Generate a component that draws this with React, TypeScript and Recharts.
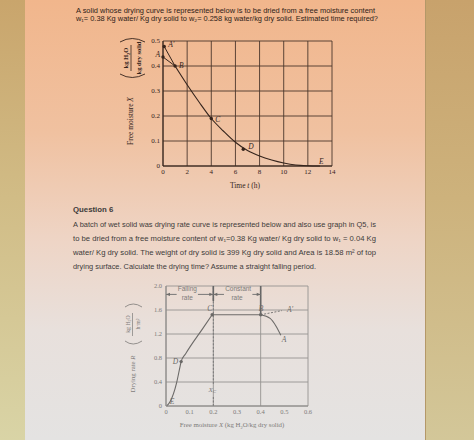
import React from "react";
import { ComposedChart, Line, XAxis, YAxis, CartesianGrid, ReferenceLine, ReferenceDot } from "recharts";

// Q5: free moisture X (kg H2O / kg dry solid) vs time t (h)
const q5Time = [1, 2, 3, 4, 5, 6, 7, 8, 9, 10, 11, 12, 13];
const q5Moisture = [0.4, 0.325, 0.255, 0.19, 0.14, 0.095, 0.062, 0.04, 0.024, 0.012, 0.004, 0.001, 0];
const q5StartATime = [0, 1];
const q5StartAMoisture = [0.436, 0.4];
const q5StartA2Time = [0.1, 1];
const q5StartA2Moisture = [0.478, 0.4];
const q5PointNames = ["A'", "A", "B", "C", "D", "E"];
const q5PointTime = [0.1, 0, 1, 4, 6.65, 13];
const q5PointMoisture = [0.478, 0.436, 0.4, 0.19, 0.067, 0];
const timeTicks = [0, 2, 4, 6, 8, 10, 12, 14];
const moistureTicks = [0, 0.1, 0.2, 0.3, 0.4, 0.5];

// Q6: drying rate R (kg H2O / h m2) vs free moisture X
const q6FallX = [0.003, 0.017, 0.045, 0.06, 0.064, 0.083, 0.155, 0.195];
const q6FallRate = [0, 0.07, 0.39, 0.67, 0.74, 0.87, 1.29, 1.52];
const q6ConstX = [0.195, 0.4];
const q6ConstRate = [1.52, 1.52];
const q6WarmX = [0.4, 0.44, 0.465, 0.485];
const q6WarmRate = [1.52, 1.46, 1.33, 1.18];
const q6HotX = [0.4, 0.49];
const q6HotRate = [1.52, 1.59];
const q6PointNames = ["A'", "A", "B", "C", "D", "E"];
const q6PointX = [0.49, 0.485, 0.4, 0.195, 0.064, 0.003];
const q6PointRate = [1.59, 1.18, 1.52, 1.52, 0.74, 0];
const criticalX = 0.2;
const q6XTicks = [0, 0.1, 0.2, 0.3, 0.4, 0.5, 0.6];
const rateTicks = [0, 0.4, 0.8, 1.2, 1.6, 2.0];

const zip = (xs: number[], ys: number[]) => xs.map((x, i) => ({ x, y: ys[i] }));
const points = (names: string[], xs: number[], ys: number[]) =>
  names.map((name, i) => ({ name, x: xs[i], y: ys[i] }));

const SERIF = "'Liberation Serif', 'DejaVu Serif', serif";
const SANS = "'Liberation Sans', Arial, sans-serif";
const INK = "#35241c";
const GREY = "#7d7b79";

// label placement (px) next to each marked point
const q5Offsets: Record<string, [number, number, "start" | "end"]> = {
  "A'": [4, 0, "start"],
  A: [-3, 0, "end"],
  B: [4, 2, "start"],
  C: [4, 3, "start"],
  D: [5, 0, "start"],
  E: [-1, -2, "start"],
};
const q6Offsets: Record<string, [number, number, "start" | "end"]> = {
  "A'": [5, 1, "start"],
  A: [1, 7, "start"],
  B: [-2, -4, "start"],
  C: [-5, -4, "start"],
  D: [-3, 2, "end"],
  E: [3, -2, "start"],
};

const makeDot = (offsets: typeof q5Offsets, color: string, noDot: string[]) => (props: any) => {
  const { cx, cy, payload, index } = props;
  const [dx, dy, anchor] = offsets[payload.name] || [4, 0, "start"];
  return (
    <g key={`pt-${index}`}>
      {!noDot.includes(payload.name) && <circle cx={cx} cy={cy} r={1.7} fill={color} />}
      <text x={cx + dx} y={cy + dy} fontSize={7.5} fontStyle="italic" fontFamily={SERIF} fill={color} textAnchor={anchor}>
        {payload.name}
      </text>
    </g>
  );
};

const arrowHead = (dir: 1 | -1) => (props: any) => {
  const { cx, cy } = props;
  return <path d={`M${cx},${cy} L${cx - dir * 4},${cy - 1.6} L${cx - dir * 4},${cy + 1.6} Z`} fill="#6f6d6b" />;
};

const noteText = (label: string, italicSub?: string) => (props: any) => {
  const { cx, cy } = props;
  return (
    <text x={cx} y={cy} fontSize={6.5} fontFamily={SANS} fill={GREY} textAnchor="middle">
      {label}
      {italicSub && <tspan fontSize={5} dy={1.5}>{italicSub}</tspan>}
    </text>
  );
};

const xcLabel = (props: any) => {
  const { cx, cy } = props;
  return (
    <text x={cx - 1} y={cy} fontSize={7} fontFamily={SERIF} fill={GREY} textAnchor="middle" fontStyle="italic">
      X<tspan fontSize={5} dy={1.5}>C</tspan>
    </text>
  );
};

const DryingCurve = () => (
  <ComposedChart width={229} height={170} margin={{ top: 10, right: 10, bottom: 5, left: 0 }}>
    <CartesianGrid stroke="#4b372b" strokeWidth={0.9} />
    <XAxis
      type="number"
      dataKey="x"
      domain={[0, 14]}
      ticks={timeTicks}
      tickSize={0}
      tickMargin={3}
      axisLine={{ stroke: INK }}
      tick={{ fontSize: 7, fontFamily: SERIF, fill: INK }}
      tickFormatter={(v: number) => (v === 0 ? "0" : String(v))}
    />
    <YAxis
      type="number"
      domain={[0, 0.5]}
      ticks={moistureTicks}
      width={50}
      tickSize={0}
      tickMargin={3}
      axisLine={{ stroke: INK }}
      tick={{ fontSize: 7, fontFamily: SERIF, fill: INK }}
      tickFormatter={(v: number) => (v === 0 ? "0" : v.toFixed(1))}
    />
    <Line data={zip(q5Time, q5Moisture)} dataKey="y" type="monotone" stroke={INK} strokeWidth={1.1} dot={false} activeDot={false} isAnimationActive={false} />
    <Line data={zip(q5StartATime, q5StartAMoisture)} dataKey="y" type="linear" stroke={INK} strokeWidth={1} dot={false} activeDot={false} isAnimationActive={false} />
    <Line data={zip(q5StartA2Time, q5StartA2Moisture)} dataKey="y" type="linear" stroke={INK} strokeWidth={1} dot={false} activeDot={false} isAnimationActive={false} />
    <Line
      data={points(q5PointNames, q5PointTime, q5PointMoisture)}
      dataKey="y"
      stroke="none"
      dot={makeDot(q5Offsets, INK, ["E"])}
      activeDot={false}
      isAnimationActive={false}
    />
  </ComposedChart>
);

const RateCurve = () => (
  <ComposedChart width={202} height={165} margin={{ top: 10, right: 10, bottom: 5, left: 0 }}>
    <CartesianGrid stroke="#959391" strokeWidth={0.9} />
    <XAxis
      type="number"
      dataKey="x"
      domain={[0, 0.6]}
      ticks={q6XTicks}
      tickSize={0}
      tickMargin={3}
      axisLine={{ stroke: "#8a8886" }}
      tick={{ fontSize: 6.5, fontFamily: SERIF, fill: GREY }}
      tickFormatter={(v: number) => (v === 0 ? "0" : v.toFixed(1))}
    />
    <YAxis
      type="number"
      domain={[0, 2]}
      ticks={rateTicks}
      width={50}
      tickSize={0}
      tickMargin={4}
      axisLine={{ stroke: "#8a8886" }}
      tick={{ fontSize: 6.5, fontFamily: SERIF, fill: GREY }}
      tickFormatter={(v: number) => (v === 0 ? "0" : v.toFixed(1))}
    />
    <ReferenceLine segment={[{ x: criticalX, y: 0 }, { x: criticalX, y: 0.17 }]} stroke="#777" strokeDasharray="2 1.5" />
    <ReferenceLine segment={[{ x: criticalX, y: 0.37 }, { x: criticalX, y: 2 }]} stroke="#777" strokeDasharray="2 1.5" />
    <ReferenceLine segment={[{ x: criticalX, y: 1.75 }, { x: criticalX, y: 2 }]} stroke="#666" strokeWidth={1.6} />
    <ReferenceLine segment={[{ x: 0.4, y: 1.52 }, { x: 0.4, y: 2 }]} stroke="#666" strokeWidth={1.6} />
    <ReferenceLine segment={[{ x: 0, y: 1.86 }, { x: 0.045, y: 1.86 }]} stroke="#777" />
    <ReferenceLine segment={[{ x: 0.135, y: 1.86 }, { x: 0.2, y: 1.86 }]} stroke="#777" />
    <ReferenceLine segment={[{ x: 0.2, y: 1.86 }, { x: 0.245, y: 1.86 }]} stroke="#777" />
    <ReferenceLine segment={[{ x: 0.365, y: 1.86 }, { x: 0.4, y: 1.86 }]} stroke="#777" />
    <ReferenceDot x={0} y={1.86} shape={arrowHead(-1)} />
    <ReferenceDot x={0.2} y={1.86} shape={arrowHead(1)} />
    <ReferenceDot x={0.2} y={1.86} shape={arrowHead(-1)} />
    <ReferenceDot x={0.4} y={1.86} shape={arrowHead(1)} />
    <ReferenceDot x={0.09} y={1.91} shape={noteText("Falling")} />
    <ReferenceDot x={0.09} y={1.77} shape={noteText("rate")} />
    <ReferenceDot x={0.305} y={1.91} shape={noteText("Constant")} />
    <ReferenceDot x={0.3} y={1.77} shape={noteText("rate")} />
    <ReferenceDot x={criticalX} y={0.24} shape={xcLabel} />
    <Line data={zip(q6FallX, q6FallRate)} dataKey="y" type="monotone" stroke="#6c6a68" strokeWidth={1.1} dot={false} activeDot={false} isAnimationActive={false} />
    <Line data={zip(q6ConstX, q6ConstRate)} dataKey="y" type="linear" stroke="#6c6a68" strokeWidth={1.1} dot={false} activeDot={false} isAnimationActive={false} />
    <Line data={zip(q6WarmX, q6WarmRate)} dataKey="y" type="monotone" stroke="#6c6a68" strokeWidth={1.1} dot={false} activeDot={false} isAnimationActive={false} />
    <Line data={zip(q6HotX, q6HotRate)} dataKey="y" type="linear" stroke="#7a7876" strokeWidth={1} strokeDasharray="2 1.5" dot={false} activeDot={false} isAnimationActive={false} />
    <Line
      data={points(q6PointNames, q6PointX, q6PointRate)}
      dataKey="y"
      stroke="none"
      dot={makeDot(q6Offsets, "#6a6866", ["A", "A'", "E"])}
      activeDot={false}
      isAnimationActive={false}
    />
  </ComposedChart>
);

export default function App() {
  return (
    <div
      style={{
        position: "absolute",
        left: 0,
        top: 0,
        width: 474,
        height: 440,
        overflow: "hidden",
        background: "linear-gradient(180deg, #f1b68c 0%, #f0c1a0 30%, #eed5c6 55%, #e8e0dc 75%, #e4e3e2 100%)",
      }}
    >
      <div style={{ position: "absolute", left: 0, top: 0, width: 25, height: 440, background: "linear-gradient(180deg, #c9a56c 0%, #d1bc86 45%, #d9d4a6 100%)" }} />
      <div style={{ position: "absolute", left: 425, top: 0, width: 49, height: 440, borderLeft: "1px solid #b49868", background: "linear-gradient(180deg, #c8a26c 0%, #cdb27c 45%, #d3c799 100%)" }} />

      <div style={{ position: "absolute", left: 113, top: 31 }}>
        <DryingCurve />
      </div>
      <div style={{ position: "absolute", left: 116, top: 276 }}>
        <RateCurve />
      </div>

      <svg width={474} height={440} style={{ position: "absolute", left: 0, top: 0, pointerEvents: "none" }}>
        {/* Q5 text */}
        <g fontFamily={SANS} fontSize={7.6} fill="#2e1c17">
          <text x={76} y={13} textLength={299} lengthAdjust="spacingAndGlyphs">
            A solid whose drying curve is represented below is to be dried from a free moisture content
          </text>
          <text x={76} y={21} textLength={302} lengthAdjust="spacingAndGlyphs">
            w₁= 0.38 Kg water/ Kg dry solid to w₂= 0.258 kg water/kg dry solid. Estimated time required?
          </text>
        </g>

        {/* Q5 axis titles */}
        <g fontFamily={SERIF} fill={INK}>
          <text x={245} y={188} fontSize={7.5} textAnchor="middle">
            Time <tspan fontStyle="italic">t</tspan> (h)
          </text>
          <g transform="rotate(-90)">
            <text x={-121} y={133} fontSize={7.5} textAnchor="middle">
              Free moisture <tspan fontStyle="italic">X</tspan>
            </text>
            <text x={-58} y={128} fontSize={6.5} textAnchor="middle" fontWeight="bold">
              kg H<tspan fontSize={4.5} dy={1.5}>2</tspan><tspan dy={-1.5}>O</tspan>
            </text>
            <text x={-58} y={141} fontSize={6.5} textAnchor="middle" fontWeight="bold">
              kg dry solid
            </text>
          </g>
          <line x1={131} y1={45} x2={131} y2={71} stroke={INK} strokeWidth={0.8} />
          <path d="M120,74 Q132,81 145,74" fill="none" stroke={INK} strokeWidth={0.9} />
          <path d="M120,42 Q132,35 145,42" fill="none" stroke={INK} strokeWidth={0.9} />
        </g>

        {/* Q6 text */}
        <g fontFamily={SANS} fontSize={7.6} fill="#3d3b3a">
          <text x={73} y={212} fontWeight="bold" fontSize={7.8}>Question 6</text>
          <text x={73} y={227} textLength={303} lengthAdjust="spacingAndGlyphs">
            A batch of wet solid was drying rate curve is represented below and also use graph in Q5, is
          </text>
          <text x={73} y={241} textLength={303} lengthAdjust="spacingAndGlyphs">
            to be dried from a free moisture content of w₁=0.38 Kg water/ Kg dry solid to w₁ = 0.04 Kg
          </text>
          <text x={73} y={255} textLength={303} lengthAdjust="spacingAndGlyphs">
            water/ Kg dry solid. The weight of dry solid is 399 Kg dry solid and Area is 18.58 m² of top
          </text>
          <text x={73} y={269} textLength={243} lengthAdjust="spacingAndGlyphs">
            drying surface. Calculate the drying time? Assume a straight falling period.
          </text>
        </g>

        {/* Q6 axis titles */}
        <g fontFamily={SERIF} fill={GREY}>
          <text x={232} y={427} fontSize={6.8} textAnchor="middle">
            Free moisture <tspan fontStyle="italic">X</tspan> (kg H<tspan fontSize={4.5} dy={1.5}>2</tspan><tspan dy={-1.5}>O/kg dry solid)</tspan>
          </text>
          <g transform="rotate(-90)">
            <text x={-374} y={135} fontSize={6.8} textAnchor="middle">
              Drying rate <tspan fontStyle="italic">R</tspan>
            </text>
            <text x={-324} y={130} fontSize={5.8} textAnchor="middle">
              kg H<tspan fontSize={4} dy={1.3}>2</tspan><tspan dy={-1.3}>O</tspan>
            </text>
            <text x={-324} y={140} fontSize={5.8} textAnchor="middle">
              h·m²
            </text>
          </g>
          <line x1={132.5} y1={313} x2={132.5} y2={336} stroke={GREY} strokeWidth={0.7} />
          <path d="M125,341 Q133,347 142,341" fill="none" stroke={GREY} strokeWidth={0.8} />
          <path d="M125,307 Q133,301 142,307" fill="none" stroke={GREY} strokeWidth={0.8} />
        </g>
      </svg>
    </div>
  );
}
